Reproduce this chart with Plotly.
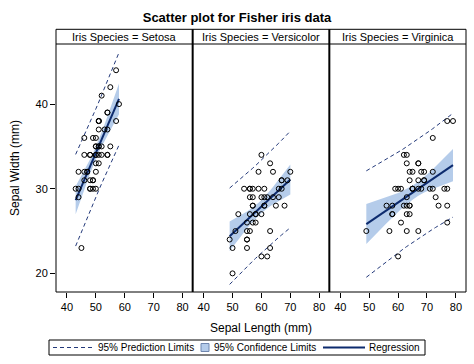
import numpy as np
import plotly.graph_objects as go

# ---------------- data (Fisher iris, mm) ----------------
species = ["Setosa", "Versicolor", "Virginica"]

setosa_len = [51, 49, 47, 46, 50, 54, 46, 50, 44, 49, 54, 48, 48, 43, 58, 57, 54, 51, 57, 51,
              54, 51, 46, 51, 48, 50, 50, 52, 52, 47, 48, 54, 52, 55, 49, 50, 55, 49, 44, 51,
              50, 45, 44, 50, 51, 48, 51, 46, 53, 50]
setosa_wid = [35, 30, 32, 31, 36, 39, 34, 34, 29, 31, 37, 34, 30, 30, 40, 44, 39, 35, 38, 38,
              34, 37, 36, 33, 34, 30, 34, 35, 34, 32, 31, 34, 41, 42, 31, 32, 35, 36, 30, 34,
              35, 23, 32, 35, 38, 30, 38, 32, 37, 33]

versicolor_len = [70, 64, 69, 55, 65, 57, 63, 49, 66, 52, 50, 59, 60, 61, 56, 67, 56, 58, 62, 56,
                  59, 61, 63, 61, 64, 66, 68, 67, 60, 57, 55, 55, 58, 60, 54, 60, 67, 63, 56, 55,
                  55, 61, 58, 50, 56, 57, 57, 62, 51, 57]
versicolor_wid = [32, 32, 31, 23, 28, 28, 33, 24, 29, 27, 20, 30, 22, 29, 29, 31, 30, 27, 22, 25,
                  32, 28, 25, 28, 29, 30, 28, 30, 29, 26, 24, 24, 27, 27, 30, 34, 31, 23, 30, 25,
                  26, 30, 26, 23, 27, 30, 29, 29, 25, 28]

virginica_len = [63, 58, 71, 63, 65, 76, 49, 73, 67, 72, 65, 64, 68, 57, 58, 64, 65, 77, 77, 60,
                 69, 56, 77, 63, 67, 72, 62, 61, 64, 72, 74, 79, 64, 63, 61, 77, 63, 64, 60, 69,
                 67, 69, 58, 68, 67, 67, 63, 65, 62, 59]
virginica_wid = [33, 27, 30, 29, 30, 30, 25, 29, 25, 36, 32, 27, 30, 25, 28, 32, 30, 38, 26, 22,
                 32, 28, 28, 27, 33, 32, 28, 30, 28, 30, 28, 38, 28, 28, 26, 30, 34, 31, 30, 31,
                 31, 31, 27, 32, 33, 30, 25, 30, 34, 30]

x_ticks = [40, 50, 60, 70, 80]
y_ticks = [20, 30, 40]
legend_labels = ["95% Prediction Limits", "95% Confidence Limits", "Regression"]
T_975_DF48 = 2.0106  # t quantile for 95% limits, n - 2 = 48 df

series = [(species[0], setosa_len, setosa_wid),
          (species[1], versicolor_len, versicolor_wid),
          (species[2], virginica_len, virginica_wid)]

FONT = "Liberation Sans, Arial, sans-serif"
BAND = "#B5CCEA"
NAVY = "#0D2B6E"
DASH = "#23397A"

W, H = 474, 364
ML, MR, MT, MB = 56, 8, 44, 72
PW, PH = W - ML - MR, H - MT - MB


def px(xp):
    return (xp - ML) / PW


def py(yp):
    return (H - MB - yp) / PH


fig = go.Figure()
for i, (name, xs, ys) in enumerate(series):
    xa = "x" if i == 0 else f"x{i + 1}"
    x = np.array(xs, float)
    y = np.array(ys, float)
    n = len(x)
    slope, icpt = np.polyfit(x, y, 1)
    resid = y - (icpt + slope * x)
    s = np.sqrt((resid ** 2).sum() / (n - 2))
    xbar = x.mean()
    sxx = ((x - xbar) ** 2).sum()
    xg = np.unique(x)
    yh = icpt + slope * xg
    se_m = s * np.sqrt(1 / n + (xg - xbar) ** 2 / sxx)
    se_p = s * np.sqrt(1 + 1 / n + (xg - xbar) ** 2 / sxx)
    # confidence band
    fig.add_trace(go.Scatter(
        x=np.concatenate([xg, xg[::-1]]),
        y=np.concatenate([yh + T_975_DF48 * se_m, (yh - T_975_DF48 * se_m)[::-1]]),
        fill="toself", fillcolor=BAND, line=dict(width=0, color=BAND),
        mode="lines", name=legend_labels[1], showlegend=False,
        xaxis=xa, yaxis="y", hoverinfo="skip"))
    # prediction limits
    fig.add_trace(go.Scatter(
        x=np.concatenate([xg, [None], xg]),
        y=np.concatenate([yh + T_975_DF48 * se_p, [None], yh - T_975_DF48 * se_p]),
        mode="lines", line=dict(color=DASH, width=1, dash="4px,3px"),
        name=legend_labels[0], showlegend=False,
        xaxis=xa, yaxis="y", hoverinfo="skip"))
    # regression
    fig.add_trace(go.Scatter(
        x=xg, y=yh, mode="lines", line=dict(color=NAVY, width=2),
        name=legend_labels[2], showlegend=False,
        xaxis=xa, yaxis="y", hoverinfo="skip"))
    # observations
    fig.add_trace(go.Scatter(
        x=x, y=y, mode="markers",
        marker=dict(symbol="circle-open", size=5, color="black", line=dict(width=1, color="black")),
        showlegend=False, xaxis=xa, yaxis="y"))

H_TOP = py(29.3)
shapes = [
    dict(type="rect", xref="paper", yref="paper", x0=0, x1=1, y0=0, y1=H_TOP,
         line=dict(color="black", width=1)),
    dict(type="line", xref="paper", yref="paper", x0=0, x1=1, y0=1, y1=1,
         line=dict(color="black", width=1)),
]
for d in (1 / 3, 2 / 3):
    shapes.append(dict(type="line", xref="paper", yref="paper", x0=d, x1=d, y0=0, y1=H_TOP,
                       line=dict(color="black", width=2)))

# legend (drawn manually to match the compact boxed legend)
LY = py(347.5)
shapes += [
    dict(type="rect", xref="paper", yref="paper", x0=px(49), x1=px(425), y0=py(355), y1=py(340),
         line=dict(color="black", width=1), fillcolor="white"),
    dict(type="line", xref="paper", yref="paper", x0=px(53), x1=px(93), y0=LY, y1=LY,
         line=dict(color=DASH, width=1, dash="4px,3px")),
    dict(type="rect", xref="paper", yref="paper", x0=px(201), x1=px(209), y0=py(351.5), y1=py(343.5),
         line=dict(color="#6F86AE", width=1), fillcolor=BAND),
    dict(type="line", xref="paper", yref="paper", x0=px(323), x1=px(365), y0=LY, y1=LY,
         line=dict(color=NAVY, width=2)),
]

annotations = []
for i, name in enumerate(species):
    annotations.append(dict(text=f"Iris Species = {name}", xref="paper", yref="paper",
                            x=(2 * i + 1) / 6, y=(1 + H_TOP) / 2, showarrow=False,
                            xanchor="center", yanchor="middle", font=dict(size=11)))
annotations.append(dict(text="Sepal Length (mm)", xref="paper", yref="paper", x=0.5, y=py(328),
                        showarrow=False, xanchor="center", yanchor="middle", font=dict(size=12)))
annotations.append(dict(text="Sepal Width (mm)", xref="paper", yref="paper", x=px(15), y=0.5,
                        textangle=-90, showarrow=False, xanchor="center", yanchor="middle",
                        font=dict(size=12)))
for xpos, lab in zip((97, 213, 368), legend_labels):
    annotations.append(dict(text=lab, xref="paper", yref="paper", x=px(xpos), y=LY,
                            showarrow=False, xanchor="left", yanchor="middle",
                            font=dict(size=10), borderpad=0))

axis_common = dict(range=[36.2, 83.5], tickvals=x_ticks, ticks="outside", ticklen=5,
                   tickcolor="black", showgrid=False, zeroline=False, showline=False,
                   tickfont=dict(size=11, color="black"), automargin=False)

fig.update_layout(
    width=W, height=H,
    margin=dict(l=ML, r=MR, t=MT, b=MB, autoexpand=False),
    paper_bgcolor="white", plot_bgcolor="white",
    font=dict(family=FONT, color="black"),
    title=dict(text="<b>Scatter plot for Fisher iris data</b>", x=0.5, xanchor="center",
               xref="container", y=1 - 17.7 / H, yanchor="middle", yref="container",
               font=dict(size=13)),
    xaxis=dict(domain=[0, 1 / 3], anchor="y", **axis_common),
    xaxis2=dict(domain=[1 / 3, 2 / 3], anchor="y", **axis_common),
    xaxis3=dict(domain=[2 / 3, 1], anchor="y", **axis_common),
    yaxis=dict(range=[17.8, 47.1], tickvals=y_ticks, ticks="outside", ticklen=5,
               tickcolor="black", showgrid=False, zeroline=False, showline=False,
               tickfont=dict(size=11, color="black"), automargin=False),
    shapes=shapes, annotations=annotations,
    showlegend=False,
)

fig.write_html("out.html", config={"displayModeBar": False},
               post_script="document.body.style.margin='0';document.body.style.padding='0';"
                           "document.body.style.overflow='hidden';")
